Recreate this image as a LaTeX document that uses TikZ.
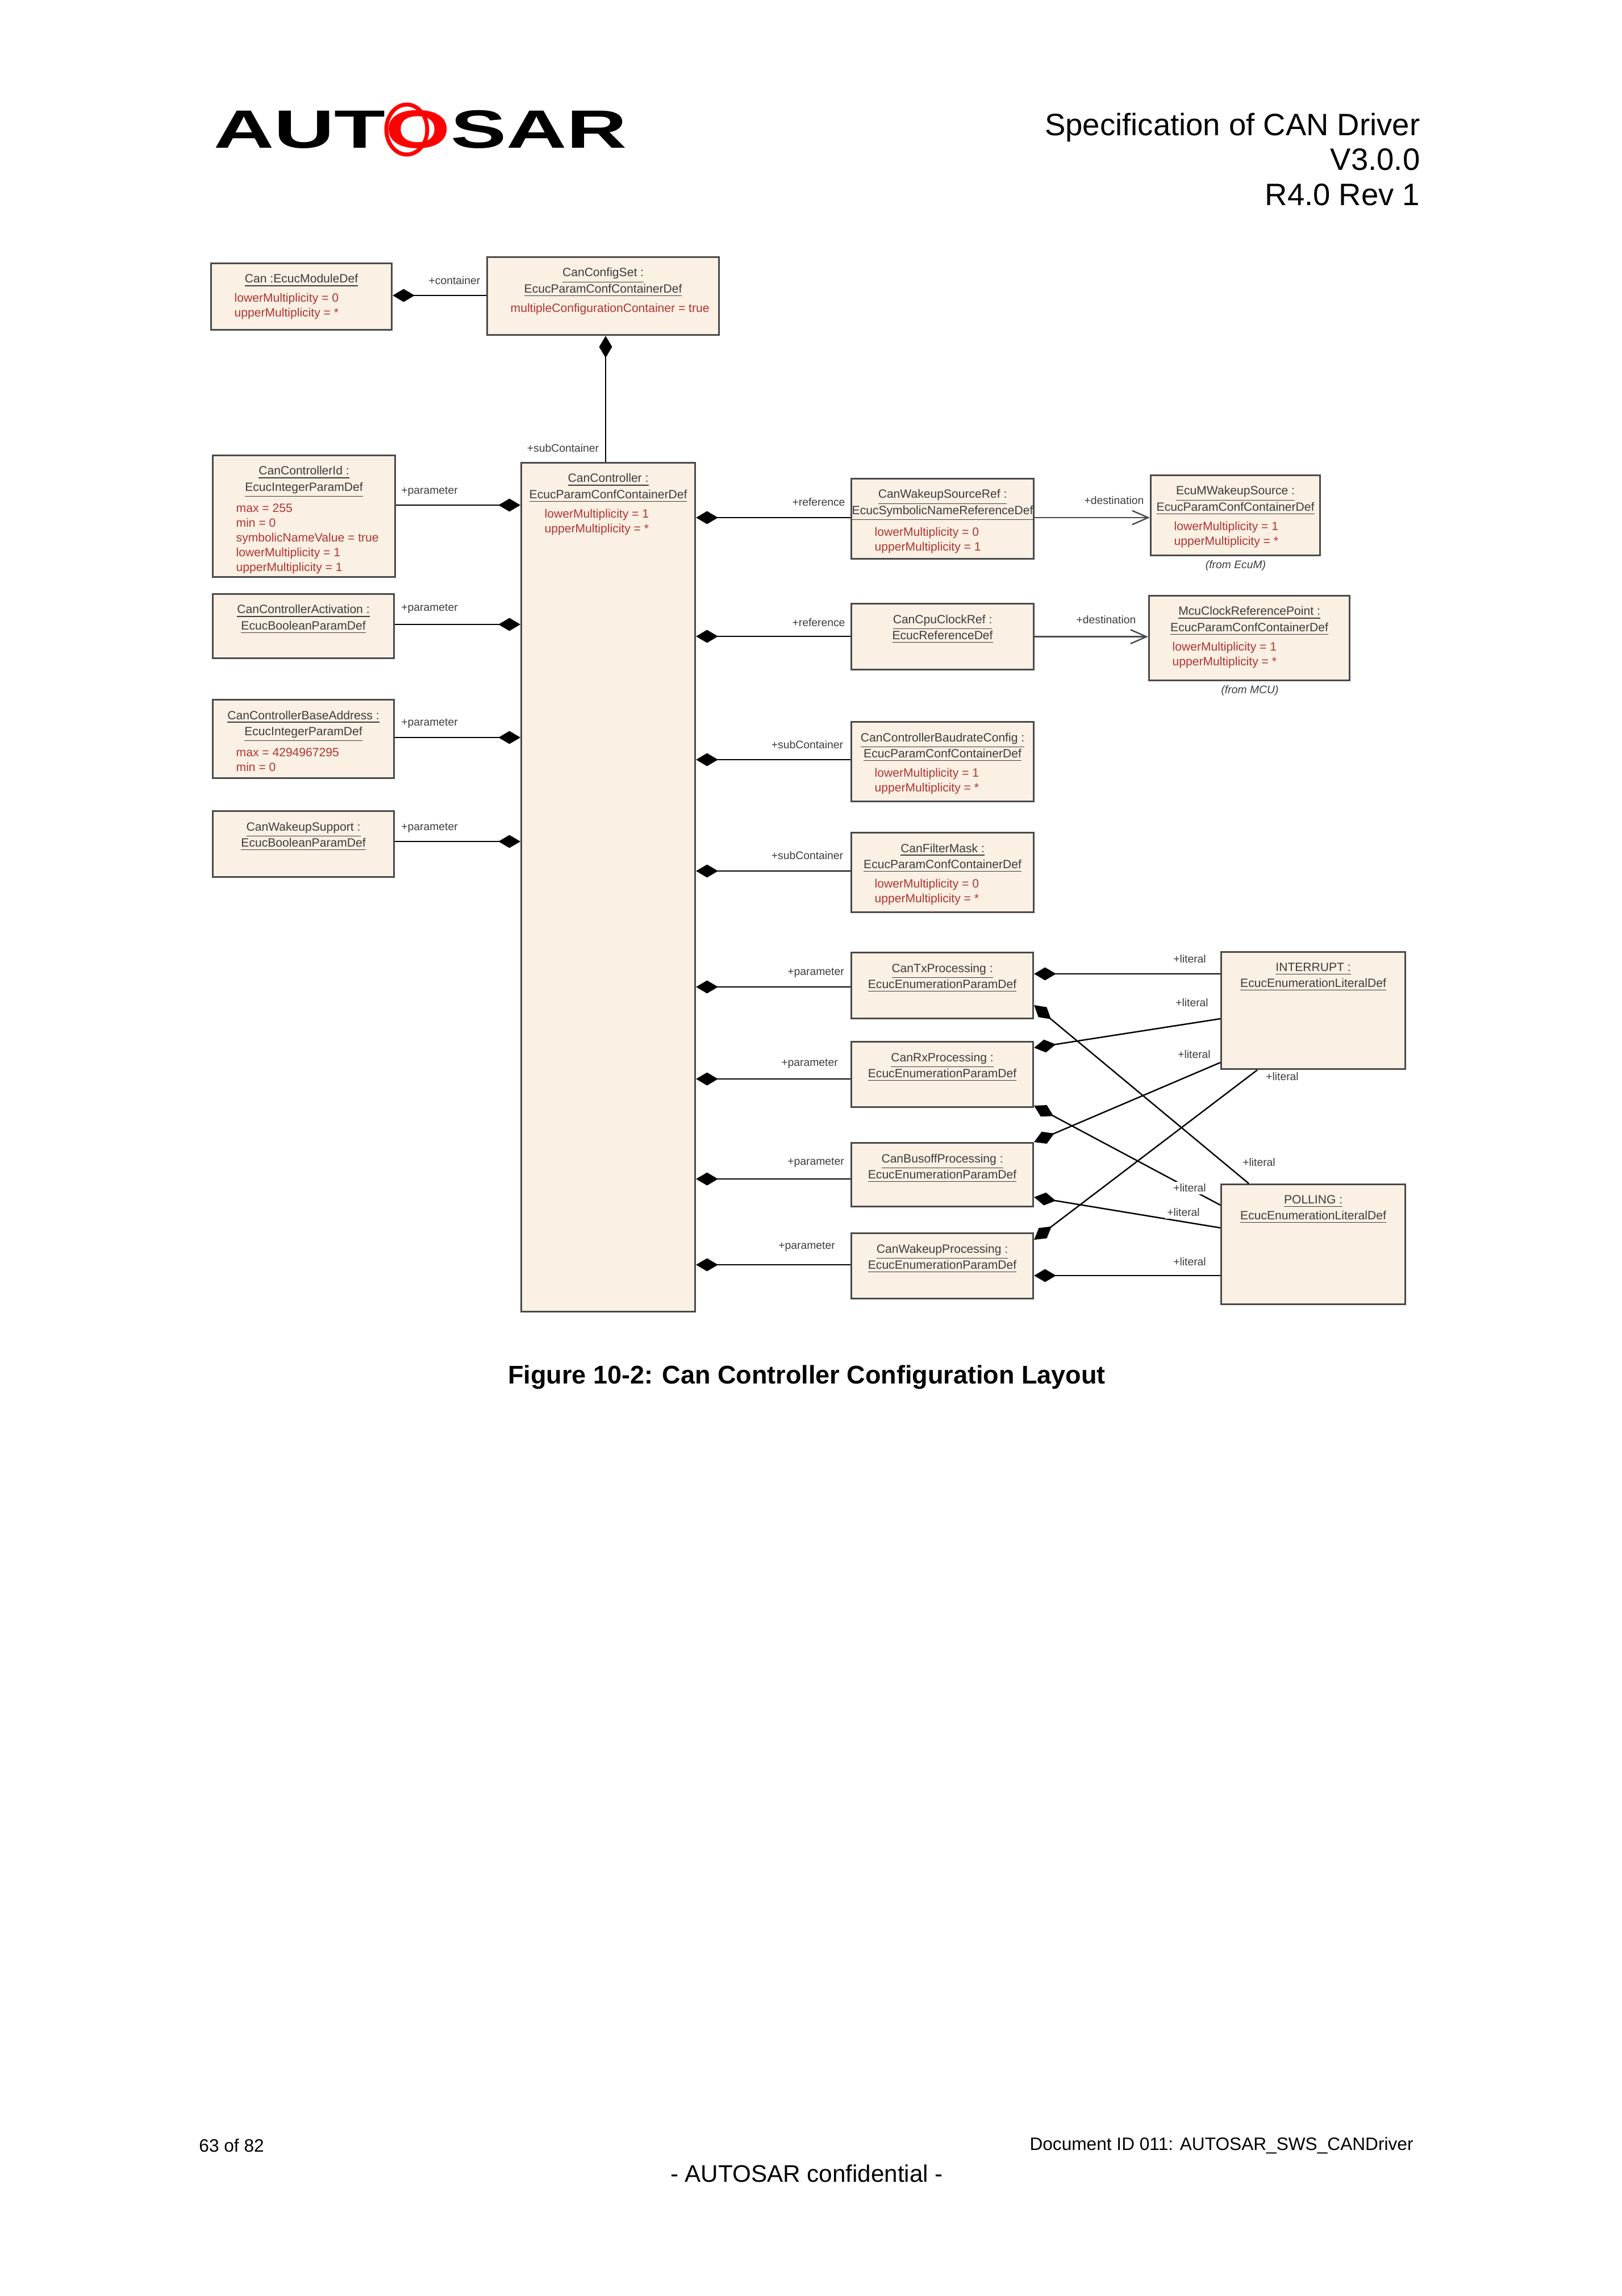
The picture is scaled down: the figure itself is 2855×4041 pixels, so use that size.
\documentclass[tikz,border=0pt]{standalone}
\usepackage{fontspec}
\setmainfont{Liberation Sans}
\usetikzlibrary{positioning}
\usetikzlibrary{calc}
\usetikzlibrary{arrows.meta}
\definecolor{boxfill}{HTML}{FAF0E3}
\definecolor{boxline}{HTML}{4A4A4A}
\definecolor{attrred}{HTML}{B03434}
\definecolor{titlegray}{HTML}{3C3C3C}
\tikzset{%
  umlbox/.style = {rectangle,draw=boxline,fill=boxfill,line width=0.9pt,
        inner sep=0pt},
  umltitle/.style = {align=center,inner sep=0pt,text=titlegray,
        font=\fontsize{6}{8}\selectfont},
  umlattr/.style = {align=left,inner sep=0pt,text=attrred,
        font=\fontsize{6}{7.4}\selectfont},
  role/.style = {inner sep=1pt,text=titlegray,fill=white,
        font=\fontsize{5.5}{6}\selectfont},
  comp/.style = {{Diamond[length=11pt,width=6.5pt]}-,line width=0.7pt},
  dest/.style = {-{Straight Barb[length=8pt,width=7pt]},line width=0.7pt,draw=boxline}
}
% box: name, x, y, width, height, title, attributes
\newcommand{\umlbox}[7]{%
  \node[umlbox,minimum width=#4*0.2845pt,minimum height=#5*0.2845pt,
        anchor=north west] (#1) at (#2,#3) {};
  \node[umltitle,anchor=north] (#1-t) at ($(#1.north)+(0,20)$) {#6};
  \node[umlattr,anchor=north west] (#1-a) at ($(#1-t.south -| #1.west)+(42,10)$) {#7};
}
\newcommand{\ut}[2]{\underline{#1}\\\underline{#2}}

\begin{document}
\begin{tikzpicture}[x=0.2845pt,y=-0.2845pt]
    \useasboundingbox (0,0) rectangle (2855,4041);

    % page header
    \node (logo) at (740,228) {\scalebox{1.55}[1]{\fontsize{27}{27}\selectfont\bfseries AUT\textcolor{red}{O}SAR}};
    \draw[red,line width=2pt] (716,228) ellipse (36 and 44);
    \node[anchor=north east,align=right,inner sep=0pt,
          font=\fontsize{15.5}{17.5}\selectfont] (head) at (2500,198)
          {Specification of CAN Driver\\V3.0.0\\R4.0 Rev 1};

    % boxes
    \umlbox{can}{370}{462}{318}{117}{\underline{Can :EcucModuleDef}}
        {lowerMultiplicity = 0\\upperMultiplicity = *}
    \umlbox{cfgset}{856}{451}{408}{137}{\ut{CanConfigSet :}{EcucParamConfContainerDef}}
        {multipleConfigurationContainer = true}
    \umlbox{ctrl}{916}{813}{306}{1494}{\ut{CanController :}{EcucParamConfContainerDef}}
        {lowerMultiplicity = 1\\upperMultiplicity = *}
    \umlbox{cid}{373}{800}{321}{214}{\ut{CanControllerId :}{EcucIntegerParamDef}}
        {max = 255\\min = 0\\symbolicNameValue = true\\lowerMultiplicity = 1\\upperMultiplicity = 1}
    \umlbox{cact}{373}{1044}{319}{113}{\ut{CanControllerActivation :}{EcucBooleanParamDef}}{}
    \umlbox{cbase}{373}{1230}{319}{138}{\ut{CanControllerBaseAddress :}{EcucIntegerParamDef}}
        {max = 4294967295\\min = 0}
    \umlbox{cwus}{373}{1426}{319}{116}{\ut{CanWakeupSupport :}{EcucBooleanParamDef}}{}
    \umlbox{wsref}{1497}{841}{321}{141}{\ut{CanWakeupSourceRef :}{EcucSymbolicNameReferenceDef}}
        {lowerMultiplicity = 0\\upperMultiplicity = 1}
    \umlbox{ecumws}{2024}{835}{298}{141}{\ut{EcuMWakeupSource :}{EcucParamConfContainerDef}}
        {lowerMultiplicity = 1\\upperMultiplicity = *}
    \umlbox{cpuref}{1497}{1061}{321}{116}{\ut{CanCpuClockRef :}{EcucReferenceDef}}{}
    \umlbox{mcuclk}{2021}{1047}{353}{149}{\ut{McuClockReferencePoint :}{EcucParamConfContainerDef}}
        {lowerMultiplicity = 1\\upperMultiplicity = *}
    \umlbox{baud}{1497}{1269}{321}{140}{\ut{CanControllerBaudrateConfig :}{EcucParamConfContainerDef}}
        {lowerMultiplicity = 1\\upperMultiplicity = *}
    \umlbox{fmask}{1497}{1464}{321}{140}{\ut{CanFilterMask :}{EcucParamConfContainerDef}}
        {lowerMultiplicity = 0\\upperMultiplicity = *}
    \umlbox{txp}{1497}{1675}{320}{116}{\ut{CanTxProcessing :}{EcucEnumerationParamDef}}{}
    \umlbox{rxp}{1497}{1832}{320}{115}{\ut{CanRxProcessing :}{EcucEnumerationParamDef}}{}
    \umlbox{bop}{1497}{2010}{320}{112}{\ut{CanBusoffProcessing :}{EcucEnumerationParamDef}}{}
    \umlbox{wup}{1497}{2169}{320}{115}{\ut{CanWakeupProcessing :}{EcucEnumerationParamDef}}{}
    \umlbox{intr}{2148}{1674}{324}{206}{\ut{INTERRUPT :}{EcucEnumerationLiteralDef}}{}
    \umlbox{poll}{2148}{2083}{324}{211}{\ut{POLLING :}{EcucEnumerationLiteralDef}}{}

    \node[font=\itshape\fontsize{5.5}{6}\selectfont,text=titlegray] (fromecum) at (2175,995) {(from EcuM)};
    \node[font=\itshape\fontsize{5.5}{6}\selectfont,text=titlegray] (frommcu) at (2200,1215) {(from MCU)};

    % top part
    \draw[comp] (can.east |- 0,520) -- (cfgset.west |- 0,520);
    \node[role] at (800,494) {+container};
    \draw[comp] (cfgset.south -| 1066,0) -- (ctrl.north -| 1066,0);
    \node[role] at (991,789) {+subContainer};

    % parameters on the left
    \foreach \b/\yy/\ly in {cid/889/865, cact/1099/1071, cbase/1298/1273, cwus/1481/1457} {
        \draw[comp] (ctrl.west |- 0,\yy) -- (\b.east |- 0,\yy);
        \node[role] at (756,\ly) {+parameter};
    }

    % references and sub containers on the right
    \foreach \b/\yy/\lx/\ly/\lt in {wsref/911/1441/884/+reference, cpuref/1120/1441/1096/+reference,
        baud/1337/1421/1311/+subContainer, fmask/1533/1421/1506/+subContainer,
        txp/1737/1436/1712/+parameter, rxp/1899/1425/1872/+parameter,
        bop/2075/1436/2046/+parameter, wup/2226/1420/2194/+parameter} {
        \draw[comp] (ctrl.east |- 0,\yy) -- (\b.west |- 0,\yy);
        \node[role] at (\lx,\ly) {\lt};
    }
    \draw[dest] (wsref.east |- 0,911) -- (ecumws.west |- 0,911);
    \node[role] at (1961,881) {+destination};
    \draw[dest] (cpuref.east) -- (mcuclk.west |- cpuref.east);
    \node[role] at (1947,1091) {+destination};

    % literals
    \draw[comp] (txp.east |- 0,1714) -- (intr.west |- 0,1714);
    \draw[comp] (rxp.east |- 0,1844) -- (intr.west |- 0,1793);
    \draw[comp] (bop.east |- 0,2010) -- (intr.west |- 0,1870);
    \draw[comp] (wup.east |- 0,2182) -- (intr.south -| 2213,0);
    \draw[comp] (txp.east |- 0,1769) -- (poll.north -| 2198,0);
    \draw[comp] (rxp.east |- 0,1946) -- (poll.west |- 0,2121);
    \draw[comp] (bop.east |- 0,2107) -- (poll.west |- 0,2161);
    \draw[comp] (wup.east |- 0,2245) -- (poll.west |- 0,2245);
    \foreach \lx/\ly in {2094/1688, 2098/1765, 2102/1856, 2257/1895,
        2216/2046, 2094/2091, 2083/2134, 2094/2221} {
        \node[role] at (\lx,\ly) {+literal};
    }

    % caption and footer
    \node[font=\bfseries\fontsize{12.8}{15}\selectfont] (caption) at (1420,2424)
        {Figure 10-2: Can Controller Configuration Layout};
    \node[anchor=west,font=\fontsize{9}{11}\selectfont] (page) at (338,3776) {63 of 82};
    \node[anchor=east,font=\fontsize{9}{11}\selectfont] (docid) at (2500,3776)
        {Document ID 011: AUTOSAR\_SWS\_CANDriver};
    \node[font=\fontsize{12}{14}\selectfont] (conf) at (1420,3825) {- AUTOSAR confidential -};
\end{tikzpicture}
\end{document}
